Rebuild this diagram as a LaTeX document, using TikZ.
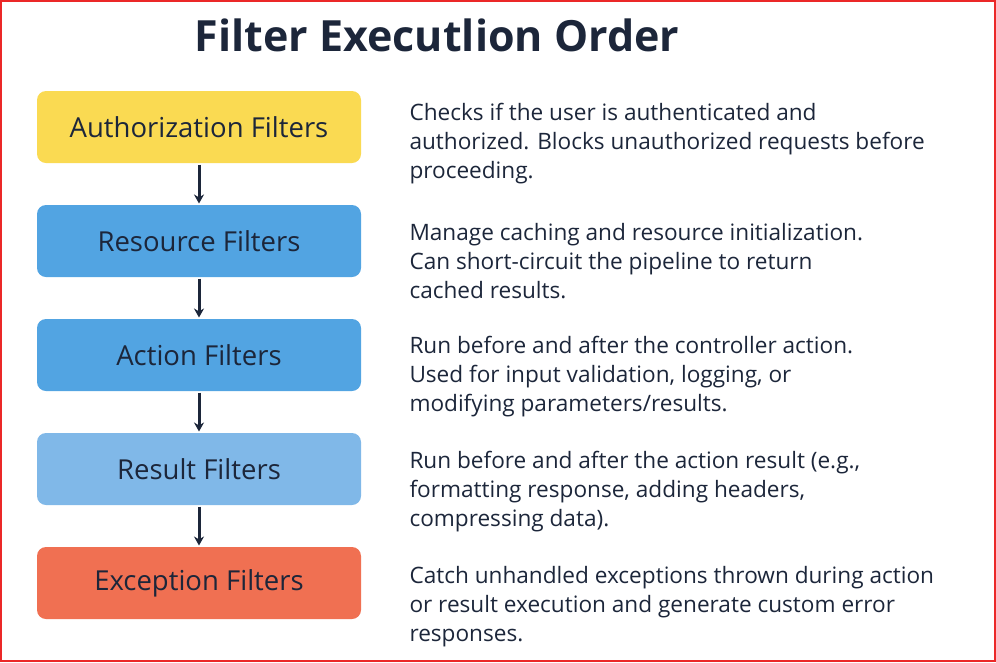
\documentclass[tikz,border=0pt]{standalone}
\usepackage{fontspec}
\setmainfont{Open Sans}
\usetikzlibrary{positioning,arrows.meta}
\definecolor{xnavy}{RGB}{28,38,58}
\definecolor{xyellow}{RGB}{250,218,82}
\definecolor{xblue}{RGB}{82,164,226}
\definecolor{xlblue}{RGB}{128,184,232}
\definecolor{xred}{RGB}{240,112,82}
\definecolor{xframe}{RGB}{235,40,40}
\begin{document}
\begin{tikzpicture}[x=1pt,y=-1pt,-{Stealth[length=9pt,width=10pt]},line width=3pt]
\tikzset{filt/.style={rounded corners=9pt,draw=none,minimum width=324pt,minimum height=72pt,text=xnavy,font=\fontsize{27.5}{32}\selectfont}}
\tikzset{desc/.style={anchor=west,align=left,text=xnavy,font=\fontsize{22.6}{29}\selectfont,inner sep=0pt}}
\useasboundingbox (0,0) rectangle (996,662);
\draw[-,xframe,line width=1.2pt] (1,1) rectangle (995,661);
\node[text=xnavy,font=\bfseries\fontsize{43}{48}\selectfont] (title) at (437,35) {Filter Executlion Order};
\node[filt,fill=xyellow] (auth) at (199,127) {Authorization Filters};
\node[filt,fill=xblue] (res) at (199,241) {Resource Filters};
\node[filt,fill=xblue] (act) at (199,355) {Action Filters};
\node[filt,fill=xlblue] (rslt) at (199,469) {Result Filters};
\node[filt,fill=xred] (exc) at (199,583) {Exception Filters};
\draw[xnavy] (auth) -- (res);
\draw[xnavy] (res) -- (act);
\draw[xnavy] (act) -- (rslt);
\draw[xnavy] (rslt) -- (exc);
% descriptions
\node[desc] (dauth) at (408,144) {Checks if the user is authenticated and\\authorized. Blocks unauthorized requests before\\proceeding.};
\node[desc] (dres) at (408,261) {Manage caching and resource initialization.\\Can short-circuit the pipeline to return\\cached results.};
\node[desc] (dact) at (408,377) {Run before and after the controller action.\\Used for input validation, logging, or\\modifying parameters/results.};
\node[desc] (drslt) at (408,492) {Run before and after the action result (e.g.,\\formatting response, adding headers,\\compressing data).};
\node[desc] (dexc) at (408,607) {Catch unhandled exceptions thrown during action\\or result execution and generate custom error\\responses.};
\end{tikzpicture}
\end{document}
